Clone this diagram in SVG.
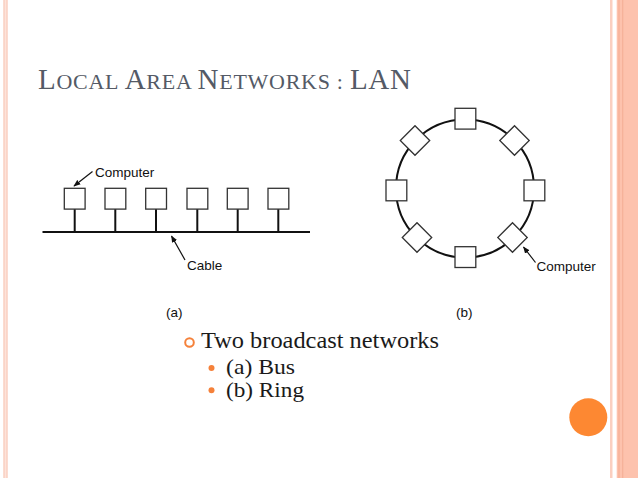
<svg xmlns="http://www.w3.org/2000/svg" width="638" height="478" viewBox="0 0 638 478">
<defs>
<marker id="ah" viewBox="0 0 10 10" refX="9" refY="5" markerWidth="7" markerHeight="7" orient="auto" markerUnits="userSpaceOnUse">
<path d="M0,1 L10,5 L0,9 z" fill="#111"/>
</marker>
<style>
.box{fill:#fff;stroke:#333;stroke-width:1.3}
.wire{stroke:#111;stroke-width:2;fill:none}
.lbl{font-family:"Liberation Sans",Arial,sans-serif;font-size:13.5px;fill:#111}
.ptr{stroke:#111;stroke-width:1.2;fill:none;marker-end:url(#ah)}
.body{font-family:"Liberation Serif","Times New Roman",serif;fill:#1a1a1a}
.title{font-family:"Liberation Serif","Times New Roman",serif;fill:#545a66}
</style>
</defs>
<rect width="638" height="478" fill="#fff"/>
<!-- borders -->
<g id="frame">
<rect x="3.5" y="0" width="4" height="478" fill="#fde3da"/>
<line x1="4" y1="0" x2="4" y2="478" stroke="#f8c6b5" stroke-width="1"/>
<line x1="7" y1="0" x2="7" y2="478" stroke="#f8c6b5" stroke-width="1"/>
<rect x="610" y="0" width="2.5" height="478" fill="#fbcfc0"/>
<rect x="616.7" y="0" width="21.3" height="478" fill="#fdc2ad"/>
<line x1="619" y1="0" x2="619" y2="478" stroke="#f6b198" stroke-width="1.4"/>
<line x1="622.7" y1="0" x2="622.7" y2="478" stroke="#f6b198" stroke-width="1.2"/>
</g>
<!-- title -->
<text class="title" x="38" y="89" textLength="373" lengthAdjust="spacing"><tspan font-size="29">L</tspan><tspan font-size="22">OCAL </tspan><tspan font-size="29">A</tspan><tspan font-size="22">REA </tspan><tspan font-size="29">N</tspan><tspan font-size="22">ETWORKS : </tspan><tspan font-size="29">LAN</tspan></text>
<!-- connectors -->
<g id="connectors">
<line class="wire" x1="42.5" y1="232" x2="310" y2="232"/>
<line class="wire" x1="74.7" y1="209" x2="74.7" y2="232"/>
<line class="wire" x1="115.3" y1="209" x2="115.3" y2="232"/>
<line class="wire" x1="156" y1="209" x2="156" y2="232"/>
<line class="wire" x1="197.3" y1="209" x2="197.3" y2="232"/>
<line class="wire" x1="237.7" y1="209" x2="237.7" y2="232"/>
<line class="wire" x1="278.3" y1="209" x2="278.3" y2="232"/>
<circle class="wire" cx="465" cy="188.5" r="69"/>
<line class="ptr" x1="92.5" y1="171.5" x2="74" y2="186"/>
<line class="ptr" x1="185" y1="260" x2="171.5" y2="236"/>
<line class="ptr" x1="535.5" y1="262.5" x2="523.5" y2="247"/>
</g>
<!-- bus nodes -->
<g id="bus-computers">
<rect class="box" x="64.3" y="188.3" width="20.8" height="20.8"/>
<rect class="box" x="105" y="188.3" width="20.8" height="20.8"/>
<rect class="box" x="145.7" y="188.3" width="20.8" height="20.8"/>
<rect class="box" x="187" y="188.3" width="20.8" height="20.8"/>
<rect class="box" x="227.3" y="188.3" width="20.8" height="20.8"/>
<rect class="box" x="268" y="188.3" width="20.8" height="20.8"/>
</g>
<!-- ring nodes -->
<g id="ring-computers">
<rect class="box" x="455" y="108.3" width="20.8" height="20.8"/>
<rect class="box" x="455" y="246.7" width="20.8" height="20.8"/>
<rect class="box" x="386" y="180" width="20.8" height="20.8"/>
<rect class="box" x="524" y="180" width="20.8" height="20.8"/>
<rect class="box" x="-10.4" y="-10.4" width="20.8" height="20.8" transform="translate(415,140.5) rotate(45)"/>
<rect class="box" x="-10.4" y="-10.4" width="20.8" height="20.8" transform="translate(514.5,140.5) rotate(45)"/>
<rect class="box" x="-10.4" y="-10.4" width="20.8" height="20.8" transform="translate(417,237.5) rotate(45)"/>
<rect class="box" x="-10.4" y="-10.4" width="20.8" height="20.8" transform="translate(512.5,237.5) rotate(45)"/>
</g>
<!-- labels -->
<g id="labels">
<text class="lbl" x="95" y="177">Computer</text>
<text class="lbl" x="187" y="270">Cable</text>
<text class="lbl" x="536.5" y="271">Computer</text>
<text class="lbl" x="166" y="317">(a)</text>
<text class="lbl" x="456" y="317">(b)</text>
</g>
<!-- bullets -->
<g id="bullets">
<circle cx="189.5" cy="342.5" r="4.3" fill="none" stroke="#f5813a" stroke-width="2"/>
<text class="body" x="201" y="348.3" font-size="24" textLength="238" lengthAdjust="spacingAndGlyphs">Two broadcast networks</text>
<circle cx="211.5" cy="368" r="3" fill="#f5813a"/>
<text class="body" x="226" y="374.3" font-size="21" textLength="69" lengthAdjust="spacingAndGlyphs">(a) Bus</text>
<circle cx="211.5" cy="390.3" r="3" fill="#f5813a"/>
<text class="body" x="226" y="396.7" font-size="21" textLength="78" lengthAdjust="spacingAndGlyphs">(b) Ring</text>
</g>
<circle id="deco" cx="588.3" cy="417.2" r="19" fill="#fd8832"/>
</svg>
